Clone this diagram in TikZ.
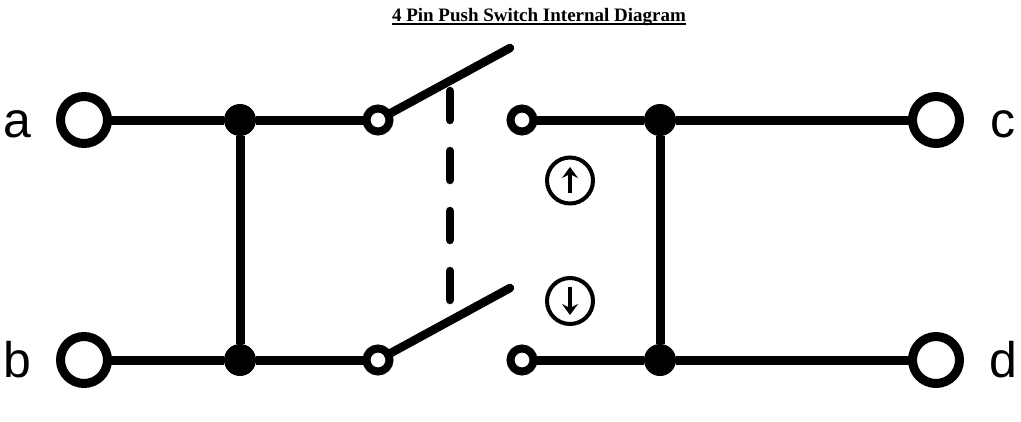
\documentclass[tikz,border=0pt]{standalone}
\usepackage{fontspec}
\setmainfont{Liberation Sans}
\newfontfamily\titlefont{Liberation Serif}
\newcommand{\ruledtext}[1]{\setbox0=\hbox{#1}\rlap{\rule[-3.5pt]{\wd0}{1.6pt}}\box0}
\usetikzlibrary{arrows.meta, positioning}

\begin{document}
\begin{tikzpicture}[
        x=1pt, y=-1pt,
        on grid,
        terminal/.style={circle, draw, fill=white, line width=9pt, minimum size=47pt, inner sep=0pt, outer sep=0pt},
        contact/.style={circle, draw, fill=white, line width=8pt, minimum size=23pt, inner sep=0pt, outer sep=0pt},
        junction/.style={circle, fill=black, minimum size=32pt, inner sep=0pt, outer sep=0pt},
        symbol/.style={circle, draw, line width=4pt, minimum size=46pt, inner sep=0pt},
        pinlabel/.style={anchor=base, inner sep=0pt, font=\fontsize{50}{50}\selectfont},
        wire/.style={line width=9pt},
        blade/.style={line width=8.5pt, line cap=round},
        link/.style={line width=8.5pt, line cap=round, dash pattern=on 29pt off 31pt},
        pointer/.style={line width=4pt, -{Stealth[length=11pt, width=16pt, inset=4pt]}}
    ]
    \useasboundingbox (0,0) rectangle (1021,421);
    \node (title) [anchor=base, inner sep=0pt, font=\titlefont\bfseries\fontsize{19}{19}\selectfont] at (539,21) {\ruledtext{4 Pin Push Switch Internal Diagram}};

    \node (pina) [terminal] at (84,120) {};
    \node (jointa) [junction, right=156pt of pina] {};
    \node (conta) [contact, right=138pt of jointa] {};
    \node (contc) [contact, right=144pt of conta] {};
    \node (jointc) [junction, right=138pt of contc] {};
    \node (pinc) [terminal, right=276pt of jointc] {};

    \node (pinb) [terminal, below=240pt of pina] {};
    \node (jointb) [junction, below=240pt of jointa] {};
    \node (contb) [contact, below=240pt of conta] {};
    \node (contd) [contact, below=240pt of contc] {};
    \node (jointd) [junction, below=240pt of jointc] {};
    \node (pind) [terminal, below=240pt of pinc] {};

    \node (labela) [pinlabel] at (17,137) {a};
    \node (labelb) [pinlabel] at (17,377) {b};
    \node (labelc) [pinlabel] at (1003,137) {c};
    \node (labeld) [pinlabel] at (1003,377) {d};

    \node (symup) [symbol] at (570,180.5) {};
    \node (symdown) [symbol] at (570,301) {};
    \coordinate (uptail) at (570,193);
    \coordinate (uphead) at (570,167);
    \coordinate (downtail) at (570,287);
    \coordinate (downhead) at (570,315);

    \coordinate (bladetop) at (510,48);
    \coordinate (bladebot) at (510,288);
    \coordinate (linktop) at (450,91);
    \coordinate (linkbot) at (450,300);

    \draw[wire] (pina) -- (jointa);
    \draw[wire] (jointa) -- (conta);
    \draw[wire] (contc) -- (jointc);
    \draw[wire] (jointc) -- (pinc);
    \draw[wire] (pinb) -- (jointb);
    \draw[wire] (jointb) -- (contb);
    \draw[wire] (contd) -- (jointd);
    \draw[wire] (jointd) -- (pind);
    \draw[wire] (jointa) -- (jointb);
    \draw[wire] (jointc) -- (jointd);

    \draw[blade] (conta) -- (bladetop);
    \draw[blade] (contb) -- (bladebot);
    \draw[link] (linktop) -- (linkbot);

    \draw[pointer] (uptail) -- (uphead);
    \draw[pointer] (downtail) -- (downhead);
\end{tikzpicture}
\end{document}
